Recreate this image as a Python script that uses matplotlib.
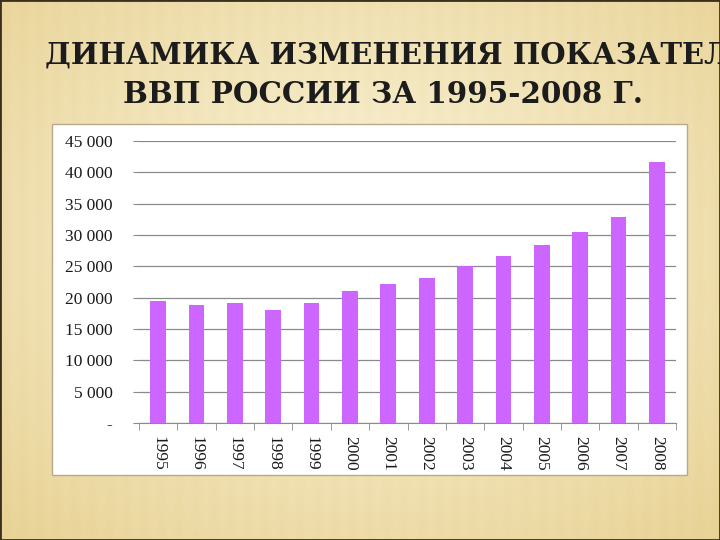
import numpy as np
import matplotlib.pyplot as plt
from matplotlib.patches import Rectangle
from matplotlib.ticker import FuncFormatter

years = ['1995', '1996', '1997', '1998', '1999', '2000', '2001',
         '2002', '2003', '2004', '2005', '2006', '2007', '2008']
gdp = [19500, 18900, 19100, 18000, 19200, 21100, 22200,
       23200, 25000, 26700, 28400, 30500, 32900, 41700]

W, H = 720, 540
fig = plt.figure(figsize=(7.2, 5.4), dpi=100)

# slide background: warm beige, lighter in the middle
bg = fig.add_axes([0, 0, 1, 1])
yy, xx = np.mgrid[0:1:200j, 0:1:260j]
r = np.sqrt(((xx - 0.5) / 0.75) ** 2 + ((yy - 0.45) / 0.75) ** 2)
stripes = 0.03 * np.sin(xx * 260)
shade = np.clip(r, 0, 1) + stripes
light = np.array([251, 245, 220]) / 255
dark = np.array([232, 210, 148]) / 255
img = light[None, None, :] * (1 - shade[..., None]) + dark[None, None, :] * shade[..., None]
bg.imshow(np.clip(img, 0, 1), aspect='auto', extent=[0, 1, 0, 1])
bg.set_xlim(0, 1)
bg.set_ylim(0, 1)
bg.axis('off')

# white chart box
bg.add_patch(Rectangle((52 / W, 1 - 475 / H), (687 - 52) / W, (475 - 124) / H,
                       facecolor='white', edgecolor='#b8a98a', lw=1.0))
bg.add_patch(Rectangle((0, 0), 1, 1, fill=False, edgecolor='#3a3020', lw=2))

# title
fig.text(45 / W, 1 - 64 / H, 'ДИНАМИКА ИЗМЕНЕНИЯ ПОКАЗАТЕЛЯ', family='DejaVu Serif',
         fontsize=21, fontweight='bold', color='#1c1c1c', ha='left', va='baseline')
fig.text(383 / W, 1 - 103 / H, 'ВВП РОССИИ ЗА 1995-2008 Г.', family='DejaVu Serif',
         fontsize=21.2, fontweight='bold', color='#1c1c1c', ha='center', va='baseline')

ax = fig.add_axes([139 / W, 1 - 423 / H, (676 - 139) / W, (423 - 141) / H])
x = np.arange(len(years))
ax.bar(x, gdp, width=0.41, color='#cc66ff', zorder=3)
ax.set_xlim(-0.5, len(years) - 0.5)
ax.set_ylim(0, 45000)
ax.set_yticks(np.arange(0, 45001, 5000))
ax.yaxis.set_major_formatter(FuncFormatter(
    lambda v, p: '-' if v == 0 else f'{int(v):,}'.replace(',', ' ')))
ax.grid(axis='y', color='#8a8a8a', lw=0.9, zorder=0)
ax.set_facecolor('white')
for s in ['top', 'right', 'left']:
    ax.spines[s].set_visible(False)
ax.spines['bottom'].set_color('#8a8a8a')
ax.tick_params(axis='y', length=4, color='#8a8a8a', pad=15, labelsize=12.5)
ax.set_xticks(x)
ax.set_xticklabels(years, rotation=270, fontsize=12.5)
ax.set_xticks(np.arange(-0.5, len(years)), minor=True)
ax.tick_params(axis='x', which='major', length=0, pad=9)
ax.tick_params(axis='x', which='minor', length=5, color='#8a8a8a')
for lab in ax.get_xticklabels() + ax.get_yticklabels():
    lab.set_family('Liberation Serif')
    lab.set_color('#1a1a1a')

fig.savefig('out.png', dpi=100)
